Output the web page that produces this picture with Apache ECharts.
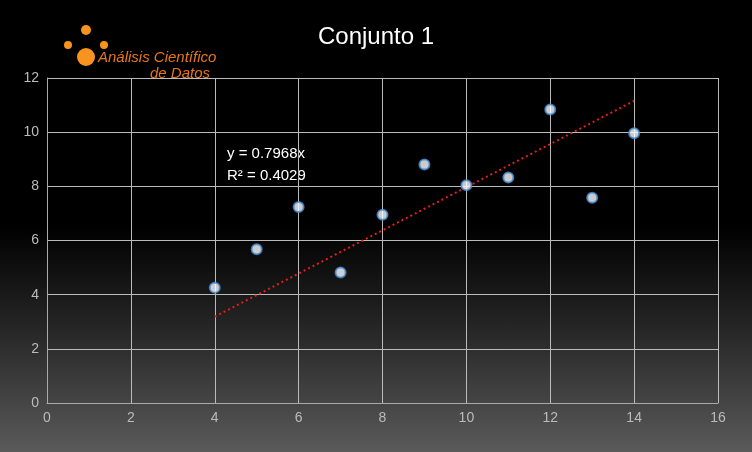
<!DOCTYPE html>
<html><head><meta charset="utf-8">
<script src="https://cdn.jsdelivr.net/npm/echarts@6/dist/echarts.min.js"></script>
<style>html,body{margin:0;padding:0;}
#c{width:752px;height:452px;background:linear-gradient(to bottom,#000 0%,#000 50%,#2a2a2a 75%,#5a5a5a 100%);}</style>
</head><body><div id="c"></div>
<script>
const xs=[10,8,13,9,11,14,6,4,12,7,5];
const ys=[8.04,6.95,7.58,8.81,8.33,9.96,7.24,4.26,10.84,4.82,5.68];
const slope=0.7968;
const trendX=[4,14];
const pts=xs.map((x,i)=>[x,ys[i]]);
const trend=trendX.map(x=>[x,slope*x]);
const chart=echarts.init(document.getElementById('c'));
chart.setOption({
 backgroundColor:'transparent',
 title:{text:'Conjunto 1',left:'center',top:20,textStyle:{color:'#fff',fontSize:24,fontWeight:'normal',fontFamily:'Liberation Sans'}},
 graphic:[
  {type:'circle',shape:{cx:86,cy:57,r:9},style:{fill:'#f7931e'}},
  {type:'circle',shape:{cx:86,cy:30,r:5},style:{fill:'#f7931e'}},
  {type:'circle',shape:{cx:68,cy:45,r:4},style:{fill:'#f7931e'}},
  {type:'circle',shape:{cx:104,cy:45,r:4},style:{fill:'#f7931e'}},
  {type:'text',left:98,top:50,style:{text:'Análisis Científico',fill:'#e8761a',font:'italic 15px Liberation Sans'}},
  {type:'text',left:150,top:66,style:{text:'de Datos',fill:'#e8761a',font:'italic 15px Liberation Sans'}},
  {type:'text',left:227,top:143,style:{text:'y = 0.7968x\nR² = 0.4029',fill:'#fff',font:'15px Liberation Sans',lineHeight:22}}
 ],
 grid:{left:47,right:34,top:78,bottom:49},
 xAxis:{type:'value',min:0,max:16,interval:2,axisLine:{lineStyle:{color:'#aaa'}},axisTick:{show:false},
  axisLabel:{color:'#bbb',fontSize:14,fontFamily:'Liberation Sans'},splitLine:{lineStyle:{color:'#bbb'}}},
 yAxis:{type:'value',min:0,max:12,interval:2,axisLine:{show:true,lineStyle:{color:'#aaa'}},axisTick:{show:false},
  axisLabel:{color:'#bbb',fontSize:14,fontFamily:'Liberation Sans'},splitLine:{lineStyle:{color:'#bbb'}}},
 series:[
  {type:'line',data:trend,symbol:'none',lineStyle:{color:'#e0201b',width:2,type:[2,3]},z:3},
  {type:'scatter',data:pts,symbolSize:10,itemStyle:{color:'#ffffff',borderColor:'#4a90d9',borderWidth:2},z:4}
 ]
});
</script></body></html>
